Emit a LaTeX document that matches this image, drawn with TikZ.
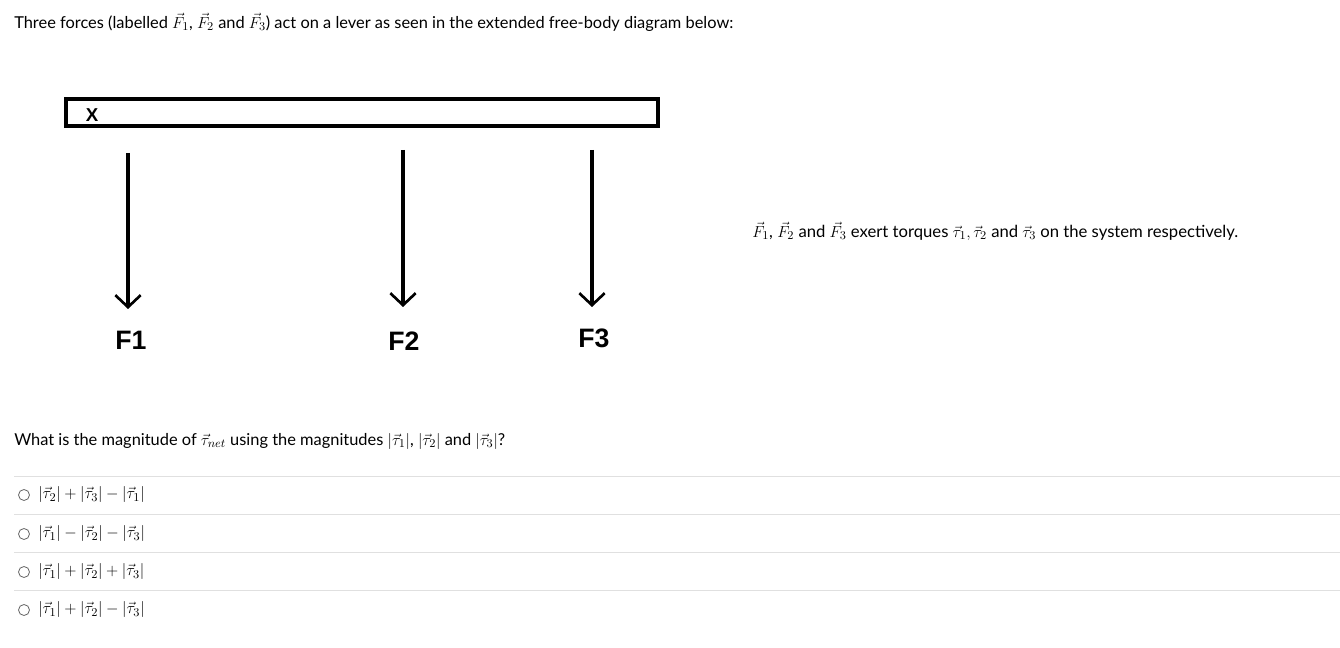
\documentclass[tikz,border=0pt]{standalone}
\usepackage{amsmath}
\usepackage[no-math]{fontspec}
\setmainfont{Lato}
\setsansfont{Liberation Sans}
\usetikzlibrary{arrows.meta}
\begin{document}
\begin{tikzpicture}[x=0.75pt,y=-0.75pt,
  txt/.style={anchor=west,inner sep=0,font=\fontsize{12.3}{14}\selectfont},
  lbl/.style={inner sep=0,font=\sffamily\bfseries\fontsize{20}{22}\selectfont},
  force/.style={line width=2.4pt,-{Straight Barb[length=9pt,width=19pt,line width=2pt]}},
  sep/.style={draw=black!12,line width=0.75pt},
  opt/.style={txt}]
\useasboundingbox (0,0) rectangle (1340,648);
\node[txt] (t1) at (14,22) {Three forces (labelled $\vec{F}_1$, $\vec{F}_2$ and $\vec{F}_3$) act on a lever as seen in the extended free-body diagram below:};
\draw[line width=3pt] (66,99) rectangle (658,126);
\node[inner sep=0,font=\sffamily\bfseries\fontsize{14}{16}\selectfont] (x) at (92,115) {X};
\coordinate (a1) at (128,153); \coordinate (b1) at (128,309);
\coordinate (a2) at (403,150); \coordinate (b2) at (403,307);
\coordinate (a3) at (592,150); \coordinate (b3) at (592,307);
\draw[force] (a1) -- (b1);
\draw[force] (a2) -- (b2);
\draw[force] (a3) -- (b3);
\node[lbl] (f1) at (131,340) {F1};
\node[lbl] (f2) at (404,341) {F2};
\node[lbl] (f3) at (594,338) {F3};
\node[txt,font=\fontsize{12.5}{14}\selectfont] (t2) at (752,231) {$\vec{F}_1$, $\vec{F}_2$ and $\vec{F}_3$ exert torques $\vec{\tau}_1, \vec{\tau}_2$ and $\vec{\tau}_3$ on the system respectively.};
\node[txt] (q) at (14,441) {What is the magnitude of $\vec{\tau}_{net}$ using the magnitudes $|\vec{\tau}_1|$, $|\vec{\tau}_2|$ and $|\vec{\tau}_3|$?};
\foreach \y in {477,515,553,591} \draw[sep] (14,\y) -- (1340,\y);
\foreach \y in {495,534,572,610} \draw[black!60,line width=0.6pt] (24,\y) circle (5.5);
\node[opt] (o1) at (38,495) {$|\vec{\tau}_2|+|\vec{\tau}_3|-|\vec{\tau}_1|$};
\node[opt] (o2) at (38,534) {$|\vec{\tau}_1|-|\vec{\tau}_2|-|\vec{\tau}_3|$};
\node[opt] (o3) at (38,572) {$|\vec{\tau}_1|+|\vec{\tau}_2|+|\vec{\tau}_3|$};
\node[opt] (o4) at (38,610) {$|\vec{\tau}_1|+|\vec{\tau}_2|-|\vec{\tau}_3|$};
\end{tikzpicture}
\end{document}
